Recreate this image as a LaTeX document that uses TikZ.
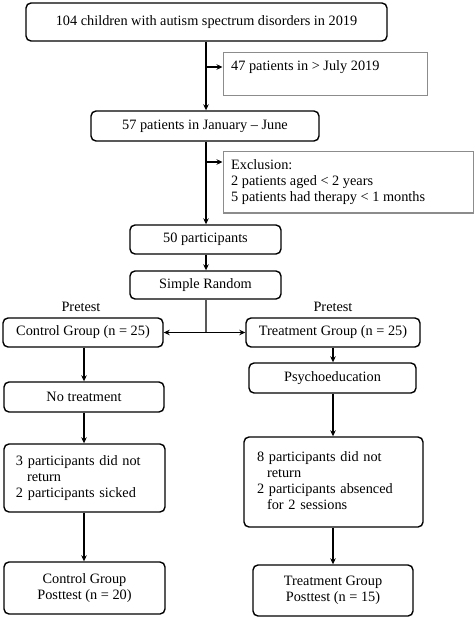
\documentclass[tikz,border=0pt]{standalone}
\usepackage{fontspec}
\setmainfont{Liberation Serif}
\usetikzlibrary{arrows.meta}
\begin{document}
\begin{tikzpicture}[x=1pt,y=-1pt,
  every node/.style={font=\fontsize{14.3}{16}\selectfont, inner sep=0pt},
  rbox/.style={draw=black, line width=1.4pt, rounded corners=5pt, minimum width=#1, align=center},
  gbox/.style={draw=black!45, line width=1pt, minimum width=#1},
  arr/.style={line width=1.4pt, -{Stealth[length=6pt,width=5.5pt]}},
  ln/.style={line width=1.2pt}]
\useasboundingbox (0,0) rectangle (474,620);
% boxes
\node[rbox=361, minimum height=38] (top) at (206.5,22) {\raisebox{2pt}{104 children with autism spectrum disorders in 2019}};
\node[gbox=204, minimum height=43] (b47) at (325,74.5) {};
\node[anchor=west] (t47) at (231,67) {47 patients in > July 2019};
\node[rbox=228, minimum height=30] (b57) at (205,126) {57 patients in January – June};
\node[gbox=250, minimum height=61] (excl) at (348,182.5) {};
\node[anchor=west, align=left] (texcl) at (231,182) {Exclusion:\\2 patients aged < 2 years\\5 patients had therapy < 1 months};
\node[rbox=151, minimum height=29] (b50) at (205.5,239.5) {50 participants};
\node[rbox=151, minimum height=28] (rand) at (205.5,285) {Simple Random};
\node (pre1) at (81,307) {Pretest};
\node (pre2) at (333,307) {Pretest};
\node[rbox=160, minimum height=29] (ctrl) at (83,332.5) {Control Group (n = 25)};
\node[rbox=174, minimum height=29] (treat) at (333,332.5) {Treatment Group (n = 25)};
\node[rbox=160, minimum height=30] (notreat) at (84,397) {No treatment};
\node[rbox=167, minimum height=30] (psycho) at (332.5,378) {Psychoeducation};
\node[rbox=161, minimum height=68, text width=137, align=left] (cdrop) at (84.5,478)
  {3 participants did not\\\hspace*{11pt}return\\2 participants sicked};
\node[rbox=179, minimum height=90, text width=153, align=left] (tdrop) at (333.5,482)
  {\raisebox{3pt}{\parbox[b]{153pt}{8 participants did not\\\hspace*{10pt}return\\2 participants absenced\\\hspace*{10pt}for 2 sessions}}};
\node[rbox=161, minimum height=52] (cpost) at (84.5,588) {Control Group\\Posttest (n = 20)};
\node[rbox=160, minimum height=51] (tpost) at (333,590.5) {Treatment Group\\Posttest (n = 15)};
% connectors
\coordinate (j1) at (206,67);
\coordinate (j2) at (206,162);
\draw[arr] (top.south -| j1) -- (b57.north -| j1);
\draw[arr] (j1) -- (j1 -| b47.west);
\draw[arr] (b57.south -| j2) -- (b50.north -| j2);
\draw[arr] (j2) -- (j2 -| excl.west);
\draw[arr] (b50.south -| j2) -- (rand.north -| j2);
\coordinate (j3) at (206,333);
\draw[ln, black!65] (rand.south -| j3) -- (j3);
\draw[line width=1.4pt, {Stealth[length=6pt,width=5.5pt]}-{Stealth[length=6pt,width=5.5pt]}] (ctrl.east) -- (treat.west);
\draw[arr] (ctrl.south -| notreat) -- (notreat.north);
\draw[arr] (notreat.south) -- (notreat.south |- cdrop.north);
\draw[arr] (notreat.south |- cdrop.south) -- (notreat.south |- cpost.north);
\draw[arr] (treat.south) -- (treat.south |- psycho.north);
\draw[arr] (treat.south |- psycho.south) -- (treat.south |- tdrop.north);
\draw[arr] (treat.south |- tdrop.south) -- (treat.south |- tpost.north);
\end{tikzpicture}
\end{document}
